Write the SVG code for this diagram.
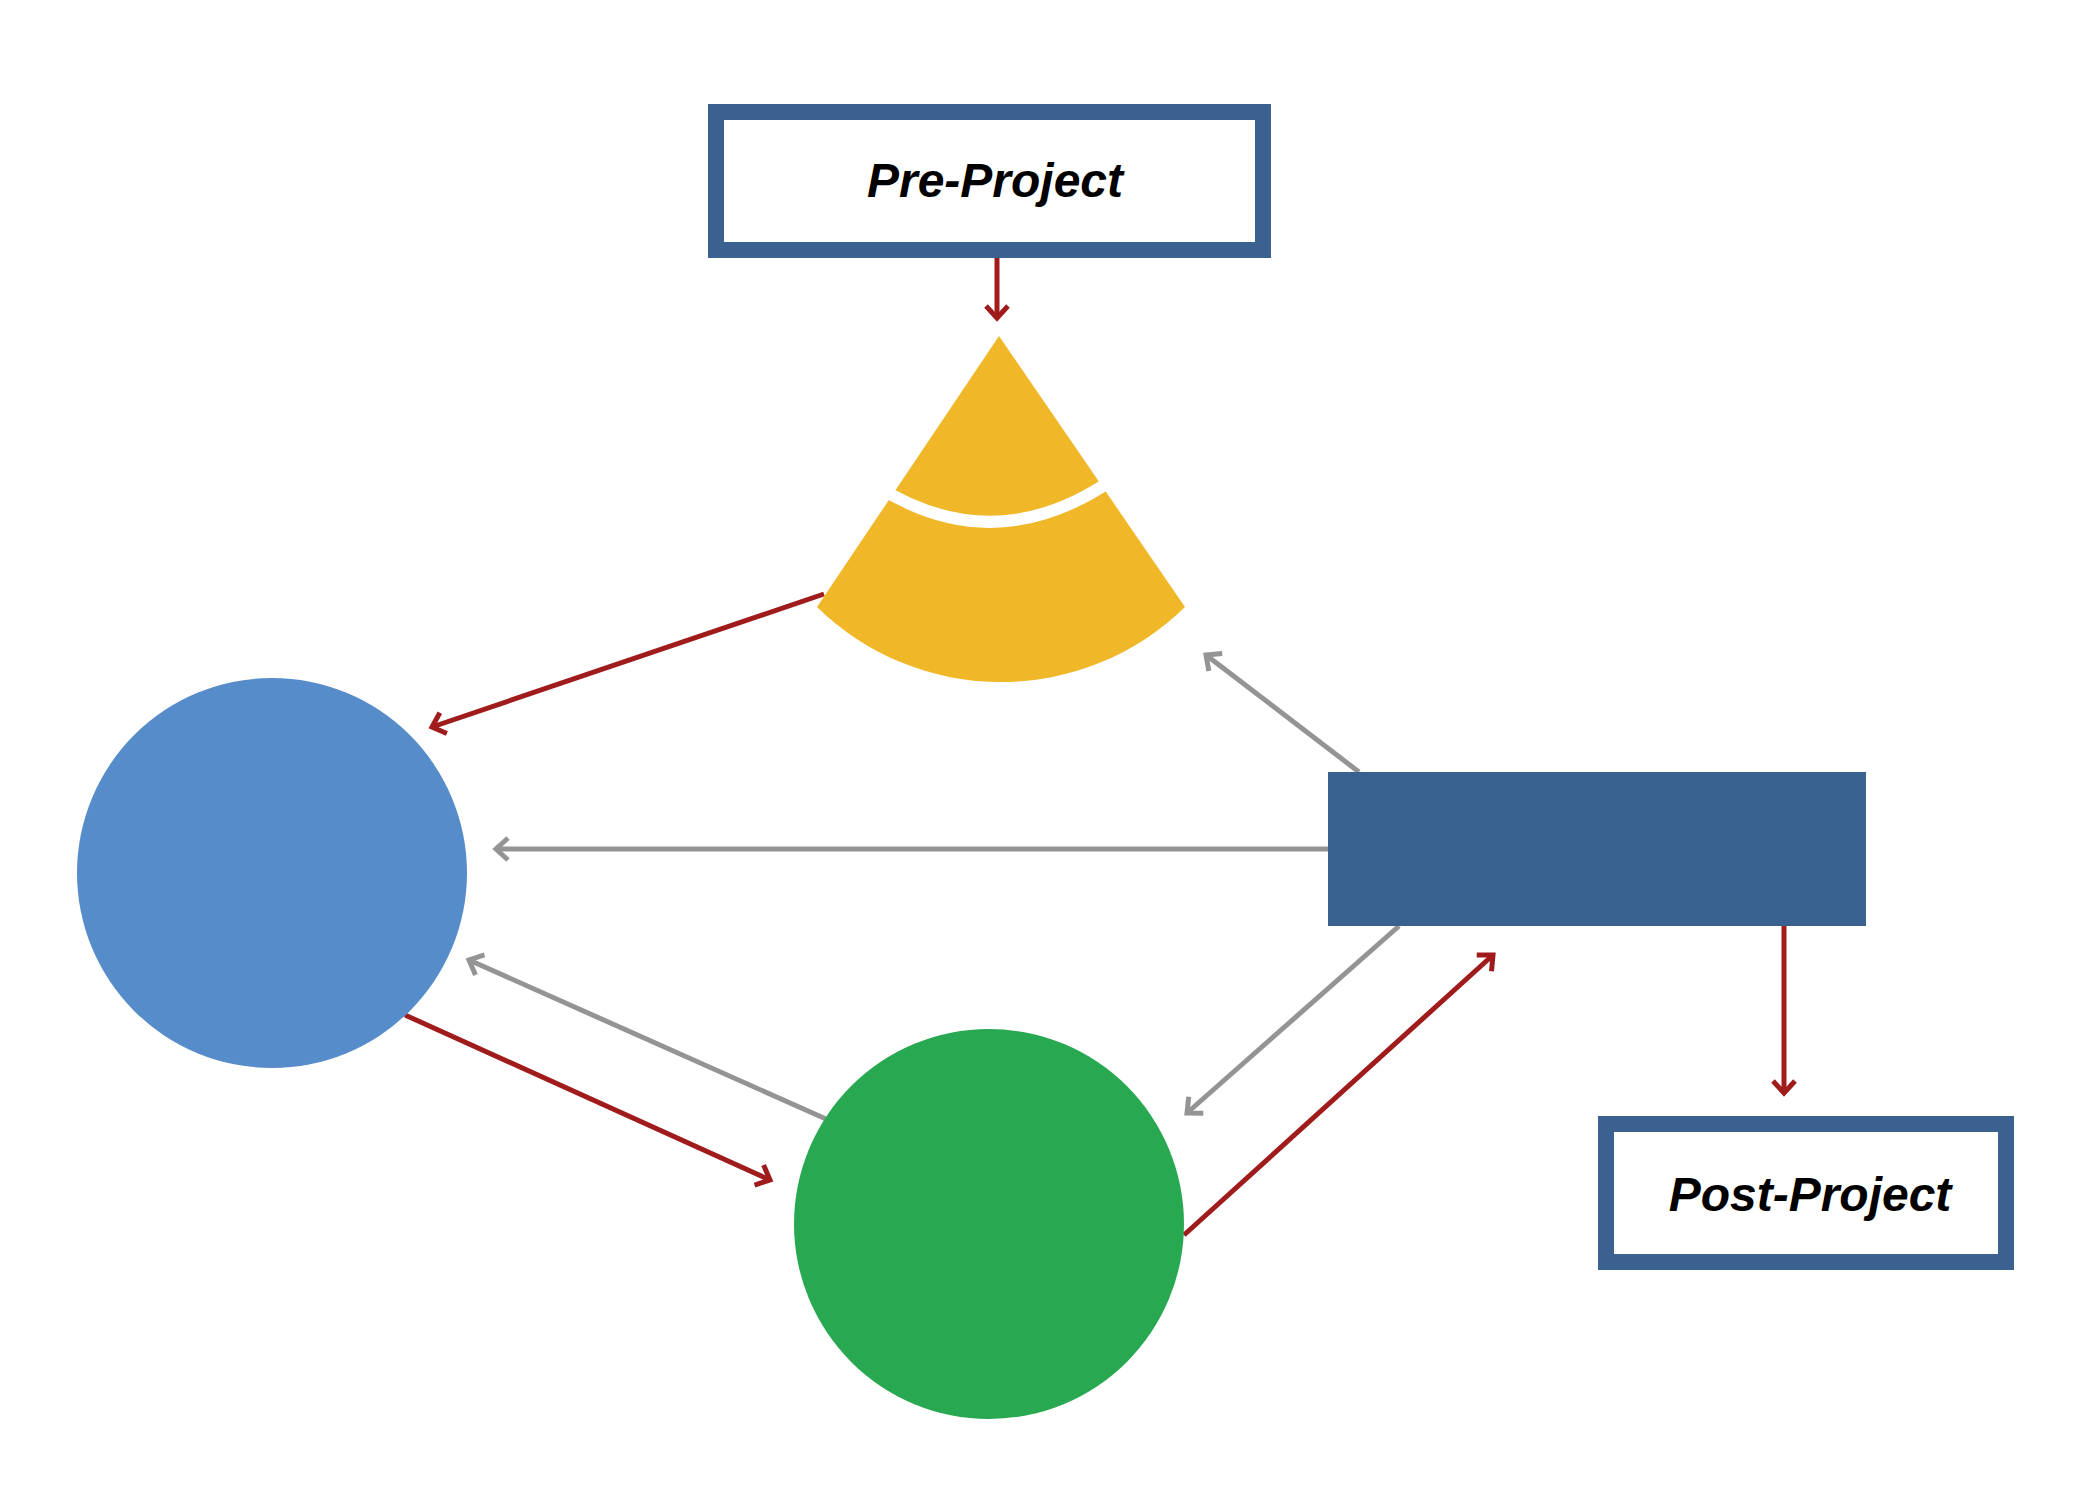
<svg xmlns="http://www.w3.org/2000/svg" width="2083" height="1500" viewBox="0 0 2083 1500">
<style>
.box{fill:#fff;stroke:#3a6190;stroke-width:16}
.lbl{font-family:"Liberation Sans",Arial,sans-serif;font-weight:bold;font-style:italic;font-size:48px;text-anchor:middle;dominant-baseline:central;fill:#000}
.red{stroke:#a01c1c;stroke-width:5;fill:none;marker-end:url(#ar)}
.gray{stroke:#949494;stroke-width:5;fill:none;marker-end:url(#ag)}
</style>
<defs>
<marker id="ar" markerUnits="userSpaceOnUse" markerWidth="26" markerHeight="26" viewBox="0 0 26 26" refX="14" refY="13" orient="auto"><path d="M2,2 L14,13 L2,24" fill="none" stroke="#a01c1c" stroke-width="5"/></marker>
<marker id="ag" markerUnits="userSpaceOnUse" markerWidth="26" markerHeight="26" viewBox="0 0 26 26" refX="14" refY="13" orient="auto"><path d="M2,2 L14,13 L2,24" fill="none" stroke="#949494" stroke-width="5"/></marker>
</defs>
<rect width="2083" height="1500" fill="#fff"/>
<g id="connectors">
<line class="red" x1="997" y1="258" x2="997" y2="318"/>
<line class="red" x1="824" y1="594" x2="432" y2="727"/>
<line class="red" x1="405" y1="1015" x2="770" y2="1180"/>
<line class="red" x1="1184" y1="1235" x2="1493" y2="955"/>
<line class="red" x1="1784" y1="926" x2="1784" y2="1093"/>
<line class="gray" x1="1359" y1="772" x2="1206" y2="655"/>
<line class="gray" x1="1328" y1="849" x2="496" y2="849"/>
<line class="gray" x1="1399" y1="926" x2="1187" y2="1113"/>
<line class="gray" x1="826" y1="1119" x2="469" y2="960"/>
</g>
<g id="pre-project"><rect class="box" x="716" y="112" width="547" height="138"/><text class="lbl" x="995" y="180">Pre-Project</text></g>
<g id="sector">
<path d="M999,336 L1185,607 A263,263 0 0 1 817,607 Z" fill="#f0b829"/>
<path d="M875,485 Q995,562 1115,478" fill="none" stroke="#fff" stroke-width="12"/>
</g>
<g id="blue-circle"><circle cx="272" cy="873" r="195" fill="#578ccb"/></g>
<g id="green-circle"><circle cx="989" cy="1224" r="195" fill="#29a852"/></g>
<g id="center-rect"><rect x="1328" y="772" width="538" height="154" fill="#386190"/></g>
<g id="post-project"><rect class="box" x="1606" y="1124" width="400" height="138"/><text class="lbl" x="1810" y="1194">Post-Project</text></g>
</svg>
